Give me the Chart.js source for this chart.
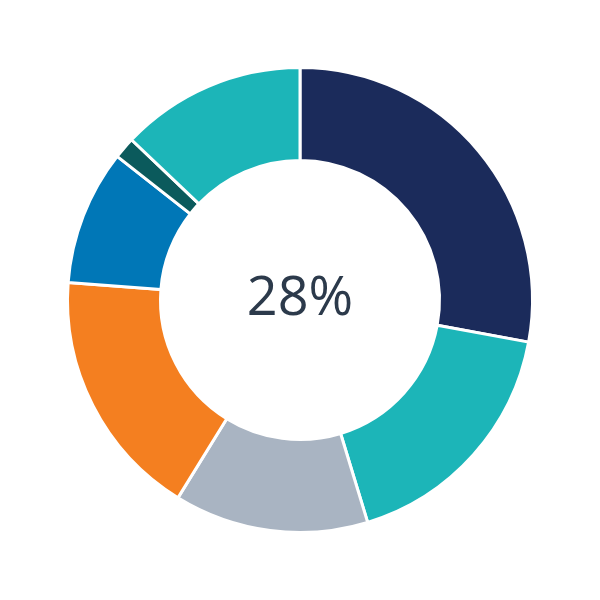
<!DOCTYPE html>
<html>
<head>
<meta charset="utf-8">
<script src="https://cdn.jsdelivr.net/npm/chart.js@4"></script>
<style>
  html, body { margin: 0; padding: 0; background: #fff; }
  #wrap { width: 600px; height: 600px; }
</style>
</head>
<body>
<div id="wrap"><canvas id="myChart" width="600" height="600"></canvas></div>
<script>
const labels = ['A', 'B', 'C', 'D', 'E', 'F', 'G'];
const values = [27.9, 17.4, 13.5, 17.4, 9.4, 1.5, 12.9];
const colors = ['#1b2b5b', '#1cb5b8', '#a9b4c2', '#f47f20', '#0077b7', '#0b5a5c', '#1cb5b8'];
const centerText = '28%';

const centerLabel = {
    id: 'centerLabel',
    afterDraw(chart) {
        const { ctx, chartArea } = chart;
        const x = (chartArea.left + chartArea.right) / 2;
        const y = (chartArea.top + chartArea.bottom) / 2;
        ctx.save();
        ctx.font = '400 54px "Open Sans", sans-serif';
        ctx.fillStyle = '#2c3a4b';
        ctx.textAlign = 'center';
        ctx.textBaseline = 'middle';
        ctx.fillText(centerText, x, y);
        ctx.restore();
    }
};

const data = {
    labels: labels,
    datasets: [{
        data: values,
        backgroundColor: colors,
        borderColor: '#ffffff',
        borderWidth: 3,
    }]
};

const config = {
    type: 'doughnut',
    data: data,
    options: {
        responsive: false,
        animation: false,
        cutout: '60%',
        layout: { padding: 66 },
        plugins: {
            legend: { display: false },
            tooltip: { enabled: false }
        }
    },
    plugins: [centerLabel]
};

const myChart = new Chart(document.getElementById('myChart'), config);
</script>
</body>
</html>
